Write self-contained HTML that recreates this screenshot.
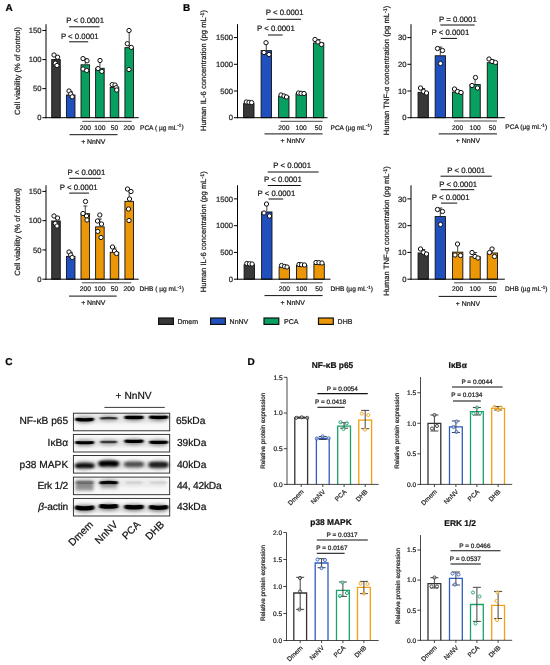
<!DOCTYPE html>
<html lang="en"><head><meta charset="utf-8"><title>Figure</title>
<style>html,body{margin:0;padding:0;background:#fff;}svg{display:block;text-rendering:geometricPrecision;font-family:"Liberation Sans",Arial,sans-serif;}</style>
</head><body>
<svg width="550" height="665" viewBox="0 0 550 665">
<defs><filter id="bl" filterUnits="userSpaceOnUse" x="60" y="400" width="130" height="130"><feGaussianBlur stdDeviation="1.2 0.75"/></filter>
<filter id="bl3" filterUnits="userSpaceOnUse" x="60" y="400" width="130" height="130"><feGaussianBlur stdDeviation="1.5 1.1"/></filter>
<filter id="bl2" filterUnits="userSpaceOnUse" x="60" y="400" width="130" height="130"><feGaussianBlur stdDeviation="1.6 1.6"/></filter></defs>
<rect width="550" height="665" fill="#fff"/>
<text x="5.40" y="11.30" font-size="10" text-anchor="start" font-weight="bold" fill="#000" stroke="#000" stroke-width="0.22">A</text>
<text x="182.90" y="11.10" font-size="10" text-anchor="start" font-weight="bold" fill="#000" stroke="#000" stroke-width="0.22">B</text>
<text x="5.30" y="365.30" font-size="10" text-anchor="start" font-weight="bold" fill="#000" stroke="#000" stroke-width="0.22">C</text>
<text x="247.50" y="365.30" font-size="10" text-anchor="start" font-weight="bold" fill="#000" stroke="#000" stroke-width="0.22">D</text>
<rect x="51.73" y="59.57" width="8.55" height="58.13" fill="#383838" stroke="#111" stroke-width="0.9"/>
<rect x="66.42" y="95.03" width="8.55" height="22.67" fill="#1f50bd" stroke="#111" stroke-width="0.9"/>
<rect x="81.02" y="64.80" width="8.55" height="52.90" fill="#08a060" stroke="#111" stroke-width="0.9"/>
<rect x="95.62" y="68.29" width="8.55" height="49.41" fill="#08a060" stroke="#111" stroke-width="0.9"/>
<rect x="110.22" y="87.30" width="8.55" height="30.40" fill="#08a060" stroke="#111" stroke-width="0.9"/>
<rect x="124.92" y="47.65" width="8.55" height="70.05" fill="#08a060" stroke="#111" stroke-width="0.9"/>
<line x1="56.00" y1="59.50" x2="56.00" y2="55.50" stroke="#111" stroke-width="0.8"/>
<line x1="54.00" y1="55.50" x2="58.00" y2="55.50" stroke="#111" stroke-width="0.8"/>
<line x1="70.70" y1="94.30" x2="70.70" y2="91.50" stroke="#111" stroke-width="0.8"/>
<line x1="68.70" y1="91.50" x2="72.70" y2="91.50" stroke="#111" stroke-width="0.8"/>
<line x1="85.30" y1="64.00" x2="85.30" y2="58.50" stroke="#111" stroke-width="0.8"/>
<line x1="83.30" y1="58.50" x2="87.30" y2="58.50" stroke="#111" stroke-width="0.8"/>
<line x1="99.90" y1="67.00" x2="99.90" y2="61.00" stroke="#111" stroke-width="0.8"/>
<line x1="97.90" y1="61.00" x2="101.90" y2="61.00" stroke="#111" stroke-width="0.8"/>
<line x1="114.50" y1="86.00" x2="114.50" y2="84.00" stroke="#111" stroke-width="0.8"/>
<line x1="112.50" y1="84.00" x2="116.50" y2="84.00" stroke="#111" stroke-width="0.8"/>
<line x1="129.20" y1="47.00" x2="129.20" y2="31.00" stroke="#111" stroke-width="0.8"/>
<line x1="127.20" y1="31.00" x2="131.20" y2="31.00" stroke="#111" stroke-width="0.8"/>
<line x1="46.00" y1="24.20" x2="46.00" y2="118.20" stroke="#000" stroke-width="1.0"/>
<line x1="45.50" y1="117.70" x2="138.70" y2="117.70" stroke="#000" stroke-width="1.0"/>
<line x1="42.40" y1="117.70" x2="46.00" y2="117.70" stroke="#000" stroke-width="1.0"/>
<text x="41.50" y="120.42" font-size="7.6" text-anchor="end" font-weight="normal" fill="#222" stroke="#222" stroke-width="0.22">0</text>
<line x1="42.40" y1="88.64" x2="46.00" y2="88.64" stroke="#000" stroke-width="1.0"/>
<text x="41.50" y="91.36" font-size="7.6" text-anchor="end" font-weight="normal" fill="#222" stroke="#222" stroke-width="0.22">50</text>
<line x1="42.40" y1="59.57" x2="46.00" y2="59.57" stroke="#000" stroke-width="1.0"/>
<text x="41.50" y="62.29" font-size="7.6" text-anchor="end" font-weight="normal" fill="#222" stroke="#222" stroke-width="0.22">100</text>
<line x1="42.40" y1="30.50" x2="46.00" y2="30.50" stroke="#000" stroke-width="1.0"/>
<text x="41.50" y="33.23" font-size="7.6" text-anchor="end" font-weight="normal" fill="#222" stroke="#222" stroke-width="0.22">150</text>
<circle cx="54.00" cy="55.00" r="2.15" fill="#fff" stroke="#111" stroke-width="1"/>
<circle cx="57.60" cy="57.20" r="2.15" fill="#fff" stroke="#111" stroke-width="1"/>
<circle cx="55.30" cy="63.20" r="2.15" fill="#fff" stroke="#111" stroke-width="1"/>
<circle cx="57.00" cy="65.50" r="2.15" fill="#fff" stroke="#111" stroke-width="1"/>
<circle cx="69.00" cy="91.00" r="2.15" fill="#fff" stroke="#111" stroke-width="1"/>
<circle cx="70.70" cy="94.00" r="2.15" fill="#fff" stroke="#111" stroke-width="1"/>
<circle cx="72.20" cy="96.80" r="2.15" fill="#fff" stroke="#111" stroke-width="1"/>
<circle cx="83.00" cy="58.60" r="2.15" fill="#fff" stroke="#111" stroke-width="1"/>
<circle cx="87.00" cy="60.80" r="2.15" fill="#fff" stroke="#111" stroke-width="1"/>
<circle cx="83.00" cy="69.00" r="2.15" fill="#fff" stroke="#111" stroke-width="1"/>
<circle cx="86.70" cy="70.50" r="2.15" fill="#fff" stroke="#111" stroke-width="1"/>
<circle cx="100.00" cy="60.50" r="2.15" fill="#fff" stroke="#111" stroke-width="1"/>
<circle cx="98.00" cy="68.60" r="2.15" fill="#fff" stroke="#111" stroke-width="1"/>
<circle cx="101.80" cy="71.40" r="2.15" fill="#fff" stroke="#111" stroke-width="1"/>
<circle cx="112.20" cy="84.60" r="2.15" fill="#fff" stroke="#111" stroke-width="1"/>
<circle cx="115.00" cy="85.00" r="2.15" fill="#fff" stroke="#111" stroke-width="1"/>
<circle cx="116.20" cy="87.70" r="2.15" fill="#fff" stroke="#111" stroke-width="1"/>
<circle cx="116.70" cy="90.00" r="2.15" fill="#fff" stroke="#111" stroke-width="1"/>
<circle cx="129.00" cy="30.50" r="2.15" fill="#fff" stroke="#111" stroke-width="1"/>
<circle cx="127.30" cy="43.70" r="2.15" fill="#fff" stroke="#111" stroke-width="1"/>
<circle cx="131.30" cy="47.40" r="2.15" fill="#fff" stroke="#111" stroke-width="1"/>
<circle cx="129.00" cy="69.50" r="2.15" fill="#fff" stroke="#111" stroke-width="1"/>
<text transform="translate(19.74,71.00) rotate(-90)" font-size="7.65" text-anchor="middle" fill="#222" stroke="#222" stroke-width="0.22">Cell viability (% of control)</text>
<text x="66.20" y="23.09" font-size="7.8" text-anchor="start" font-weight="normal" fill="#222" stroke="#222" stroke-width="0.22">P &lt; 0.0001</text>
<line x1="69.10" y1="26.80" x2="99.60" y2="26.80" stroke="#111" stroke-width="1.0"/>
<text x="60.90" y="38.59" font-size="7.8" text-anchor="start" font-weight="normal" fill="#222" stroke="#222" stroke-width="0.22">P &lt; 0.0001</text>
<line x1="69.10" y1="41.80" x2="88.20" y2="41.80" stroke="#111" stroke-width="1.0"/>
<line x1="82.30" y1="121.30" x2="131.70" y2="121.30" stroke="#333" stroke-width="0.9"/>
<text x="85.30" y="130.00" font-size="6.7" text-anchor="middle" font-weight="normal" fill="#222" stroke="#222" stroke-width="0.22">200</text>
<text x="99.90" y="130.00" font-size="6.7" text-anchor="middle" font-weight="normal" fill="#222" stroke="#222" stroke-width="0.22">100</text>
<text x="114.50" y="130.00" font-size="6.7" text-anchor="middle" font-weight="normal" fill="#222" stroke="#222" stroke-width="0.22">50</text>
<text x="129.20" y="130.00" font-size="6.7" text-anchor="middle" font-weight="normal" fill="#222" stroke="#222" stroke-width="0.22">200</text>
<text x="140.00" y="129.50" font-size="6.57" text-anchor="start" font-weight="normal" fill="#222" stroke="#222" stroke-width="0.22">PCA ( µg mL<tspan font-size="70%" dy="-0.45em">-1</tspan><tspan dy="0.3em">)</tspan></text>
<line x1="69.50" y1="134.70" x2="117.50" y2="134.70" stroke="#111" stroke-width="1.0"/>
<text x="93.30" y="143.57" font-size="6.9" text-anchor="middle" font-weight="normal" fill="#222" stroke="#222" stroke-width="0.22">+ NnNV</text>
<rect x="51.73" y="220.96" width="8.55" height="58.24" fill="#383838" stroke="#111" stroke-width="0.9"/>
<rect x="66.42" y="256.37" width="8.55" height="22.83" fill="#1f50bd" stroke="#111" stroke-width="0.9"/>
<rect x="81.02" y="213.65" width="8.55" height="65.55" fill="#ec9706" stroke="#111" stroke-width="0.9"/>
<rect x="95.62" y="226.82" width="8.55" height="52.38" fill="#ec9706" stroke="#111" stroke-width="0.9"/>
<rect x="110.22" y="252.28" width="8.55" height="26.92" fill="#ec9706" stroke="#111" stroke-width="0.9"/>
<rect x="124.92" y="201.36" width="8.55" height="77.84" fill="#ec9706" stroke="#111" stroke-width="0.9"/>
<line x1="56.00" y1="220.50" x2="56.00" y2="216.50" stroke="#111" stroke-width="0.8"/>
<line x1="54.00" y1="216.50" x2="58.00" y2="216.50" stroke="#111" stroke-width="0.8"/>
<line x1="70.70" y1="255.50" x2="70.70" y2="252.50" stroke="#111" stroke-width="0.8"/>
<line x1="68.70" y1="252.50" x2="72.70" y2="252.50" stroke="#111" stroke-width="0.8"/>
<line x1="85.30" y1="213.00" x2="85.30" y2="206.00" stroke="#111" stroke-width="0.8"/>
<line x1="83.30" y1="206.00" x2="87.30" y2="206.00" stroke="#111" stroke-width="0.8"/>
<line x1="99.90" y1="226.00" x2="99.90" y2="219.00" stroke="#111" stroke-width="0.8"/>
<line x1="97.90" y1="219.00" x2="101.90" y2="219.00" stroke="#111" stroke-width="0.8"/>
<line x1="114.50" y1="251.50" x2="114.50" y2="248.00" stroke="#111" stroke-width="0.8"/>
<line x1="112.50" y1="248.00" x2="116.50" y2="248.00" stroke="#111" stroke-width="0.8"/>
<line x1="129.20" y1="201.00" x2="129.20" y2="190.00" stroke="#111" stroke-width="0.8"/>
<line x1="127.20" y1="190.00" x2="131.20" y2="190.00" stroke="#111" stroke-width="0.8"/>
<line x1="46.00" y1="185.30" x2="46.00" y2="279.70" stroke="#000" stroke-width="1.0"/>
<line x1="45.50" y1="279.20" x2="138.70" y2="279.20" stroke="#000" stroke-width="1.0"/>
<line x1="42.40" y1="279.20" x2="46.00" y2="279.20" stroke="#000" stroke-width="1.0"/>
<text x="41.50" y="281.92" font-size="7.6" text-anchor="end" font-weight="normal" fill="#222" stroke="#222" stroke-width="0.22">0</text>
<line x1="42.40" y1="249.94" x2="46.00" y2="249.94" stroke="#000" stroke-width="1.0"/>
<text x="41.50" y="252.66" font-size="7.6" text-anchor="end" font-weight="normal" fill="#222" stroke="#222" stroke-width="0.22">50</text>
<line x1="42.40" y1="220.67" x2="46.00" y2="220.67" stroke="#000" stroke-width="1.0"/>
<text x="41.50" y="223.39" font-size="7.6" text-anchor="end" font-weight="normal" fill="#222" stroke="#222" stroke-width="0.22">100</text>
<line x1="42.40" y1="191.40" x2="46.00" y2="191.40" stroke="#000" stroke-width="1.0"/>
<text x="41.50" y="194.13" font-size="7.6" text-anchor="end" font-weight="normal" fill="#222" stroke="#222" stroke-width="0.22">150</text>
<circle cx="54.00" cy="216.00" r="2.15" fill="#fff" stroke="#111" stroke-width="1"/>
<circle cx="57.60" cy="218.00" r="2.15" fill="#fff" stroke="#111" stroke-width="1"/>
<circle cx="55.30" cy="223.50" r="2.15" fill="#fff" stroke="#111" stroke-width="1"/>
<circle cx="57.00" cy="226.00" r="2.15" fill="#fff" stroke="#111" stroke-width="1"/>
<circle cx="69.00" cy="252.00" r="2.15" fill="#fff" stroke="#111" stroke-width="1"/>
<circle cx="70.70" cy="255.00" r="2.15" fill="#fff" stroke="#111" stroke-width="1"/>
<circle cx="72.20" cy="257.50" r="2.15" fill="#fff" stroke="#111" stroke-width="1"/>
<circle cx="85.50" cy="201.50" r="2.15" fill="#fff" stroke="#111" stroke-width="1"/>
<circle cx="83.00" cy="213.50" r="2.15" fill="#fff" stroke="#111" stroke-width="1"/>
<circle cx="86.50" cy="216.00" r="2.15" fill="#fff" stroke="#111" stroke-width="1"/>
<circle cx="87.00" cy="220.00" r="2.15" fill="#fff" stroke="#111" stroke-width="1"/>
<circle cx="99.80" cy="215.00" r="2.15" fill="#fff" stroke="#111" stroke-width="1"/>
<circle cx="97.50" cy="221.00" r="2.15" fill="#fff" stroke="#111" stroke-width="1"/>
<circle cx="101.50" cy="224.00" r="2.15" fill="#fff" stroke="#111" stroke-width="1"/>
<circle cx="97.80" cy="231.40" r="2.15" fill="#fff" stroke="#111" stroke-width="1"/>
<circle cx="101.00" cy="237.50" r="2.15" fill="#fff" stroke="#111" stroke-width="1"/>
<circle cx="112.50" cy="247.00" r="2.15" fill="#fff" stroke="#111" stroke-width="1"/>
<circle cx="114.50" cy="251.00" r="2.15" fill="#fff" stroke="#111" stroke-width="1"/>
<circle cx="116.50" cy="253.50" r="2.15" fill="#fff" stroke="#111" stroke-width="1"/>
<circle cx="127.50" cy="189.00" r="2.15" fill="#fff" stroke="#111" stroke-width="1"/>
<circle cx="131.00" cy="191.50" r="2.15" fill="#fff" stroke="#111" stroke-width="1"/>
<circle cx="129.50" cy="199.00" r="2.15" fill="#fff" stroke="#111" stroke-width="1"/>
<circle cx="128.50" cy="209.00" r="2.15" fill="#fff" stroke="#111" stroke-width="1"/>
<circle cx="129.00" cy="220.50" r="2.15" fill="#fff" stroke="#111" stroke-width="1"/>
<text transform="translate(19.74,231.80) rotate(-90)" font-size="7.65" text-anchor="middle" fill="#222" stroke="#222" stroke-width="0.22">Cell viability (% of control)</text>
<text x="67.50" y="174.79" font-size="7.8" text-anchor="start" font-weight="normal" fill="#222" stroke="#222" stroke-width="0.22">P &lt; 0.0001</text>
<line x1="69.20" y1="178.30" x2="101.20" y2="178.30" stroke="#111" stroke-width="1.0"/>
<text x="59.80" y="189.79" font-size="7.8" text-anchor="start" font-weight="normal" fill="#222" stroke="#222" stroke-width="0.22">P &lt; 0.0001</text>
<line x1="69.20" y1="193.10" x2="89.00" y2="193.10" stroke="#111" stroke-width="1.0"/>
<line x1="81.80" y1="282.80" x2="131.30" y2="282.80" stroke="#333" stroke-width="0.9"/>
<text x="85.30" y="291.30" font-size="6.7" text-anchor="middle" font-weight="normal" fill="#222" stroke="#222" stroke-width="0.22">200</text>
<text x="99.90" y="291.30" font-size="6.7" text-anchor="middle" font-weight="normal" fill="#222" stroke="#222" stroke-width="0.22">100</text>
<text x="114.50" y="291.30" font-size="6.7" text-anchor="middle" font-weight="normal" fill="#222" stroke="#222" stroke-width="0.22">50</text>
<text x="129.20" y="291.30" font-size="6.7" text-anchor="middle" font-weight="normal" fill="#222" stroke="#222" stroke-width="0.22">200</text>
<text x="139.50" y="290.80" font-size="6.57" text-anchor="start" font-weight="normal" fill="#222" stroke="#222" stroke-width="0.22">DHB ( µg mL<tspan font-size="70%" dy="-0.45em">-1</tspan><tspan dy="0.3em">)</tspan></text>
<line x1="69.00" y1="296.10" x2="116.70" y2="296.10" stroke="#111" stroke-width="1.0"/>
<text x="93.30" y="305.17" font-size="6.9" text-anchor="middle" font-weight="normal" fill="#222" stroke="#222" stroke-width="0.22">+ NnNV</text>
<rect x="243.60" y="103.60" width="10.40" height="14.10" fill="#383838" stroke="#111" stroke-width="0.9"/>
<rect x="261.10" y="50.63" width="10.40" height="67.07" fill="#1f50bd" stroke="#111" stroke-width="0.9"/>
<rect x="278.60" y="96.34" width="10.40" height="21.36" fill="#08a060" stroke="#111" stroke-width="0.9"/>
<rect x="296.00" y="93.67" width="10.40" height="24.03" fill="#08a060" stroke="#111" stroke-width="0.9"/>
<rect x="313.40" y="42.94" width="10.40" height="74.76" fill="#08a060" stroke="#111" stroke-width="0.9"/>
<line x1="248.80" y1="103.00" x2="248.80" y2="101.50" stroke="#111" stroke-width="0.8"/>
<line x1="246.80" y1="101.50" x2="250.80" y2="101.50" stroke="#111" stroke-width="0.8"/>
<line x1="266.30" y1="50.00" x2="266.30" y2="43.00" stroke="#111" stroke-width="0.8"/>
<line x1="264.30" y1="43.00" x2="268.30" y2="43.00" stroke="#111" stroke-width="0.8"/>
<line x1="283.80" y1="96.00" x2="283.80" y2="94.50" stroke="#111" stroke-width="0.8"/>
<line x1="281.80" y1="94.50" x2="285.80" y2="94.50" stroke="#111" stroke-width="0.8"/>
<line x1="301.20" y1="94.00" x2="301.20" y2="92.50" stroke="#111" stroke-width="0.8"/>
<line x1="299.20" y1="92.50" x2="303.20" y2="92.50" stroke="#111" stroke-width="0.8"/>
<line x1="318.60" y1="42.00" x2="318.60" y2="39.50" stroke="#111" stroke-width="0.8"/>
<line x1="316.60" y1="39.50" x2="320.60" y2="39.50" stroke="#111" stroke-width="0.8"/>
<line x1="237.50" y1="24.20" x2="237.50" y2="118.20" stroke="#000" stroke-width="1.0"/>
<line x1="237.00" y1="117.70" x2="327.50" y2="117.70" stroke="#000" stroke-width="1.0"/>
<line x1="233.90" y1="117.70" x2="237.50" y2="117.70" stroke="#000" stroke-width="1.0"/>
<text x="233.00" y="120.42" font-size="7.6" text-anchor="end" font-weight="normal" fill="#222" stroke="#222" stroke-width="0.22">0</text>
<line x1="233.90" y1="91.00" x2="237.50" y2="91.00" stroke="#000" stroke-width="1.0"/>
<text x="233.00" y="93.72" font-size="7.6" text-anchor="end" font-weight="normal" fill="#222" stroke="#222" stroke-width="0.22">500</text>
<line x1="233.90" y1="64.30" x2="237.50" y2="64.30" stroke="#000" stroke-width="1.0"/>
<text x="233.00" y="67.02" font-size="7.6" text-anchor="end" font-weight="normal" fill="#222" stroke="#222" stroke-width="0.22">1000</text>
<line x1="233.90" y1="37.60" x2="237.50" y2="37.60" stroke="#000" stroke-width="1.0"/>
<text x="233.00" y="40.32" font-size="7.6" text-anchor="end" font-weight="normal" fill="#222" stroke="#222" stroke-width="0.22">1500</text>
<circle cx="246.30" cy="102.00" r="2.15" fill="#fff" stroke="#111" stroke-width="1"/>
<circle cx="249.00" cy="102.30" r="2.15" fill="#fff" stroke="#111" stroke-width="1"/>
<circle cx="251.60" cy="102.60" r="2.15" fill="#fff" stroke="#111" stroke-width="1"/>
<circle cx="266.00" cy="42.70" r="2.15" fill="#fff" stroke="#111" stroke-width="1"/>
<circle cx="264.00" cy="52.50" r="2.15" fill="#fff" stroke="#111" stroke-width="1"/>
<circle cx="269.00" cy="54.50" r="2.15" fill="#fff" stroke="#111" stroke-width="1"/>
<circle cx="281.00" cy="95.00" r="2.15" fill="#fff" stroke="#111" stroke-width="1"/>
<circle cx="284.00" cy="96.00" r="2.15" fill="#fff" stroke="#111" stroke-width="1"/>
<circle cx="286.50" cy="97.00" r="2.15" fill="#fff" stroke="#111" stroke-width="1"/>
<circle cx="298.50" cy="93.00" r="2.15" fill="#fff" stroke="#111" stroke-width="1"/>
<circle cx="301.00" cy="93.30" r="2.15" fill="#fff" stroke="#111" stroke-width="1"/>
<circle cx="304.00" cy="93.50" r="2.15" fill="#fff" stroke="#111" stroke-width="1"/>
<circle cx="315.00" cy="39.50" r="2.15" fill="#fff" stroke="#111" stroke-width="1"/>
<circle cx="318.00" cy="42.00" r="2.15" fill="#fff" stroke="#111" stroke-width="1"/>
<circle cx="321.50" cy="44.50" r="2.15" fill="#fff" stroke="#111" stroke-width="1"/>
<text transform="translate(206.24,70.50) rotate(-90)" font-size="7.65" text-anchor="middle" fill="#222" stroke="#222" stroke-width="0.22">Human IL-6 concentration (pg mL<tspan font-size="70%" dy="-0.45em">-1</tspan><tspan dy="0.3em">)</tspan></text>
<text x="265.70" y="15.29" font-size="7.8" text-anchor="start" font-weight="normal" fill="#222" stroke="#222" stroke-width="0.22">P &lt; 0.0001</text>
<line x1="266.80" y1="19.30" x2="301.00" y2="19.30" stroke="#111" stroke-width="1.0"/>
<text x="257.00" y="31.49" font-size="7.8" text-anchor="start" font-weight="normal" fill="#222" stroke="#222" stroke-width="0.22">P &lt; 0.0001</text>
<line x1="268.00" y1="35.00" x2="282.60" y2="35.00" stroke="#111" stroke-width="1.0"/>
<line x1="280.50" y1="121.30" x2="322.60" y2="121.30" stroke="#333" stroke-width="0.9"/>
<text x="283.80" y="130.00" font-size="6.7" text-anchor="middle" font-weight="normal" fill="#222" stroke="#222" stroke-width="0.22">200</text>
<text x="301.20" y="130.00" font-size="6.7" text-anchor="middle" font-weight="normal" fill="#222" stroke="#222" stroke-width="0.22">100</text>
<text x="318.60" y="130.00" font-size="6.7" text-anchor="middle" font-weight="normal" fill="#222" stroke="#222" stroke-width="0.22">50</text>
<text x="330.50" y="129.50" font-size="6.57" text-anchor="start" font-weight="normal" fill="#222" stroke="#222" stroke-width="0.22">PCA (µg mL<tspan font-size="70%" dy="-0.45em">-1</tspan><tspan dy="0.3em">)</tspan></text>
<line x1="264.50" y1="133.90" x2="322.60" y2="133.90" stroke="#111" stroke-width="1.0"/>
<text x="292.70" y="142.87" font-size="6.9" text-anchor="middle" font-weight="normal" fill="#222" stroke="#222" stroke-width="0.22">+ NnNV</text>
<rect x="418.05" y="92.34" width="10.30" height="25.36" fill="#383838" stroke="#111" stroke-width="0.9"/>
<rect x="435.15" y="55.76" width="10.30" height="61.94" fill="#1f50bd" stroke="#111" stroke-width="0.9"/>
<rect x="452.55" y="92.07" width="10.30" height="25.63" fill="#08a060" stroke="#111" stroke-width="0.9"/>
<rect x="469.95" y="84.59" width="10.30" height="33.11" fill="#08a060" stroke="#111" stroke-width="0.9"/>
<rect x="487.25" y="62.70" width="10.30" height="55.00" fill="#08a060" stroke="#111" stroke-width="0.9"/>
<line x1="423.20" y1="91.50" x2="423.20" y2="88.50" stroke="#111" stroke-width="0.8"/>
<line x1="421.20" y1="88.50" x2="425.20" y2="88.50" stroke="#111" stroke-width="0.8"/>
<line x1="440.30" y1="55.00" x2="440.30" y2="47.00" stroke="#111" stroke-width="0.8"/>
<line x1="438.30" y1="47.00" x2="442.30" y2="47.00" stroke="#111" stroke-width="0.8"/>
<line x1="457.70" y1="92.00" x2="457.70" y2="90.00" stroke="#111" stroke-width="0.8"/>
<line x1="455.70" y1="90.00" x2="459.70" y2="90.00" stroke="#111" stroke-width="0.8"/>
<line x1="475.10" y1="84.00" x2="475.10" y2="78.00" stroke="#111" stroke-width="0.8"/>
<line x1="473.10" y1="78.00" x2="477.10" y2="78.00" stroke="#111" stroke-width="0.8"/>
<line x1="492.40" y1="61.50" x2="492.40" y2="59.50" stroke="#111" stroke-width="0.8"/>
<line x1="490.40" y1="59.50" x2="494.40" y2="59.50" stroke="#111" stroke-width="0.8"/>
<line x1="411.00" y1="24.20" x2="411.00" y2="118.20" stroke="#000" stroke-width="1.0"/>
<line x1="410.50" y1="117.70" x2="504.80" y2="117.70" stroke="#000" stroke-width="1.0"/>
<line x1="407.40" y1="117.70" x2="411.00" y2="117.70" stroke="#000" stroke-width="1.0"/>
<text x="406.50" y="120.42" font-size="7.6" text-anchor="end" font-weight="normal" fill="#222" stroke="#222" stroke-width="0.22">0</text>
<line x1="407.40" y1="91.00" x2="411.00" y2="91.00" stroke="#000" stroke-width="1.0"/>
<text x="406.50" y="93.72" font-size="7.6" text-anchor="end" font-weight="normal" fill="#222" stroke="#222" stroke-width="0.22">10</text>
<line x1="407.40" y1="64.30" x2="411.00" y2="64.30" stroke="#000" stroke-width="1.0"/>
<text x="406.50" y="67.02" font-size="7.6" text-anchor="end" font-weight="normal" fill="#222" stroke="#222" stroke-width="0.22">20</text>
<line x1="407.40" y1="37.60" x2="411.00" y2="37.60" stroke="#000" stroke-width="1.0"/>
<text x="406.50" y="40.32" font-size="7.6" text-anchor="end" font-weight="normal" fill="#222" stroke="#222" stroke-width="0.22">30</text>
<circle cx="420.50" cy="88.00" r="2.15" fill="#fff" stroke="#111" stroke-width="1"/>
<circle cx="423.50" cy="91.50" r="2.15" fill="#fff" stroke="#111" stroke-width="1"/>
<circle cx="426.50" cy="93.00" r="2.15" fill="#fff" stroke="#111" stroke-width="1"/>
<circle cx="437.50" cy="48.50" r="2.15" fill="#fff" stroke="#111" stroke-width="1"/>
<circle cx="442.50" cy="50.50" r="2.15" fill="#fff" stroke="#111" stroke-width="1"/>
<circle cx="440.50" cy="63.50" r="2.15" fill="#fff" stroke="#111" stroke-width="1"/>
<circle cx="454.50" cy="89.00" r="2.15" fill="#fff" stroke="#111" stroke-width="1"/>
<circle cx="457.50" cy="91.50" r="2.15" fill="#fff" stroke="#111" stroke-width="1"/>
<circle cx="461.00" cy="92.50" r="2.15" fill="#fff" stroke="#111" stroke-width="1"/>
<circle cx="475.50" cy="77.50" r="2.15" fill="#fff" stroke="#111" stroke-width="1"/>
<circle cx="472.00" cy="85.50" r="2.15" fill="#fff" stroke="#111" stroke-width="1"/>
<circle cx="477.50" cy="88.00" r="2.15" fill="#fff" stroke="#111" stroke-width="1"/>
<circle cx="489.00" cy="59.00" r="2.15" fill="#fff" stroke="#111" stroke-width="1"/>
<circle cx="492.00" cy="61.50" r="2.15" fill="#fff" stroke="#111" stroke-width="1"/>
<circle cx="495.50" cy="62.50" r="2.15" fill="#fff" stroke="#111" stroke-width="1"/>
<text transform="translate(389.44,70.50) rotate(-90)" font-size="7.65" text-anchor="middle" fill="#222" stroke="#222" stroke-width="0.22">Human TNF-α concentration (pg mL<tspan font-size="70%" dy="-0.45em">-1</tspan><tspan dy="0.3em">)</tspan></text>
<text x="439.00" y="21.79" font-size="7.8" text-anchor="start" font-weight="normal" fill="#222" stroke="#222" stroke-width="0.22">P = 0.0001</text>
<line x1="440.30" y1="25.00" x2="474.70" y2="25.00" stroke="#111" stroke-width="1.0"/>
<text x="431.50" y="35.29" font-size="7.8" text-anchor="start" font-weight="normal" fill="#222" stroke="#222" stroke-width="0.22">P &lt; 0.0001</text>
<line x1="440.80" y1="38.40" x2="457.00" y2="38.40" stroke="#111" stroke-width="1.0"/>
<line x1="454.00" y1="121.00" x2="497.00" y2="121.00" stroke="#333" stroke-width="0.9"/>
<text x="457.70" y="129.70" font-size="6.7" text-anchor="middle" font-weight="normal" fill="#222" stroke="#222" stroke-width="0.22">200</text>
<text x="475.10" y="129.70" font-size="6.7" text-anchor="middle" font-weight="normal" fill="#222" stroke="#222" stroke-width="0.22">100</text>
<text x="492.40" y="129.70" font-size="6.7" text-anchor="middle" font-weight="normal" fill="#222" stroke="#222" stroke-width="0.22">50</text>
<text x="505.30" y="129.20" font-size="6.57" text-anchor="start" font-weight="normal" fill="#222" stroke="#222" stroke-width="0.22">PCA (µg mL<tspan font-size="70%" dy="-0.45em">-1</tspan><tspan dy="0.3em">)</tspan></text>
<line x1="438.70" y1="133.90" x2="497.00" y2="133.90" stroke="#111" stroke-width="1.0"/>
<text x="468.00" y="143.17" font-size="6.9" text-anchor="middle" font-weight="normal" fill="#222" stroke="#222" stroke-width="0.22">+ NnNV</text>
<rect x="244.10" y="264.74" width="10.40" height="14.46" fill="#383838" stroke="#111" stroke-width="0.9"/>
<rect x="261.60" y="211.95" width="10.40" height="67.25" fill="#1f50bd" stroke="#111" stroke-width="0.9"/>
<rect x="279.10" y="267.15" width="10.40" height="12.05" fill="#ec9706" stroke="#111" stroke-width="0.9"/>
<rect x="296.50" y="265.55" width="10.40" height="13.65" fill="#ec9706" stroke="#111" stroke-width="0.9"/>
<rect x="313.90" y="264.21" width="10.40" height="14.99" fill="#ec9706" stroke="#111" stroke-width="0.9"/>
<line x1="249.30" y1="264.20" x2="249.30" y2="262.50" stroke="#111" stroke-width="0.8"/>
<line x1="247.30" y1="262.50" x2="251.30" y2="262.50" stroke="#111" stroke-width="0.8"/>
<line x1="266.80" y1="211.20" x2="266.80" y2="204.00" stroke="#111" stroke-width="0.8"/>
<line x1="264.80" y1="204.00" x2="268.80" y2="204.00" stroke="#111" stroke-width="0.8"/>
<line x1="284.30" y1="266.70" x2="284.30" y2="265.00" stroke="#111" stroke-width="0.8"/>
<line x1="282.30" y1="265.00" x2="286.30" y2="265.00" stroke="#111" stroke-width="0.8"/>
<line x1="301.70" y1="265.00" x2="301.70" y2="263.50" stroke="#111" stroke-width="0.8"/>
<line x1="299.70" y1="263.50" x2="303.70" y2="263.50" stroke="#111" stroke-width="0.8"/>
<line x1="319.10" y1="263.70" x2="319.10" y2="262.00" stroke="#111" stroke-width="0.8"/>
<line x1="317.10" y1="262.00" x2="321.10" y2="262.00" stroke="#111" stroke-width="0.8"/>
<line x1="237.50" y1="185.30" x2="237.50" y2="279.70" stroke="#000" stroke-width="1.0"/>
<line x1="237.00" y1="279.20" x2="330.50" y2="279.20" stroke="#000" stroke-width="1.0"/>
<line x1="233.90" y1="279.20" x2="237.50" y2="279.20" stroke="#000" stroke-width="1.0"/>
<text x="233.00" y="281.92" font-size="7.6" text-anchor="end" font-weight="normal" fill="#222" stroke="#222" stroke-width="0.22">0</text>
<line x1="233.90" y1="252.43" x2="237.50" y2="252.43" stroke="#000" stroke-width="1.0"/>
<text x="233.00" y="255.15" font-size="7.6" text-anchor="end" font-weight="normal" fill="#222" stroke="#222" stroke-width="0.22">500</text>
<line x1="233.90" y1="225.66" x2="237.50" y2="225.66" stroke="#000" stroke-width="1.0"/>
<text x="233.00" y="228.38" font-size="7.6" text-anchor="end" font-weight="normal" fill="#222" stroke="#222" stroke-width="0.22">1000</text>
<line x1="233.90" y1="198.89" x2="237.50" y2="198.89" stroke="#000" stroke-width="1.0"/>
<text x="233.00" y="201.61" font-size="7.6" text-anchor="end" font-weight="normal" fill="#222" stroke="#222" stroke-width="0.22">1500</text>
<circle cx="246.80" cy="263.50" r="2.15" fill="#fff" stroke="#111" stroke-width="1"/>
<circle cx="249.50" cy="263.80" r="2.15" fill="#fff" stroke="#111" stroke-width="1"/>
<circle cx="252.10" cy="264.00" r="2.15" fill="#fff" stroke="#111" stroke-width="1"/>
<circle cx="266.50" cy="204.00" r="2.15" fill="#fff" stroke="#111" stroke-width="1"/>
<circle cx="264.00" cy="213.00" r="2.15" fill="#fff" stroke="#111" stroke-width="1"/>
<circle cx="269.50" cy="216.00" r="2.15" fill="#fff" stroke="#111" stroke-width="1"/>
<circle cx="281.50" cy="265.50" r="2.15" fill="#fff" stroke="#111" stroke-width="1"/>
<circle cx="284.50" cy="266.50" r="2.15" fill="#fff" stroke="#111" stroke-width="1"/>
<circle cx="287.00" cy="267.00" r="2.15" fill="#fff" stroke="#111" stroke-width="1"/>
<circle cx="299.00" cy="264.50" r="2.15" fill="#fff" stroke="#111" stroke-width="1"/>
<circle cx="301.50" cy="264.70" r="2.15" fill="#fff" stroke="#111" stroke-width="1"/>
<circle cx="304.50" cy="265.00" r="2.15" fill="#fff" stroke="#111" stroke-width="1"/>
<circle cx="316.00" cy="262.50" r="2.15" fill="#fff" stroke="#111" stroke-width="1"/>
<circle cx="319.00" cy="262.70" r="2.15" fill="#fff" stroke="#111" stroke-width="1"/>
<circle cx="322.00" cy="263.00" r="2.15" fill="#fff" stroke="#111" stroke-width="1"/>
<text transform="translate(206.24,231.70) rotate(-90)" font-size="7.65" text-anchor="middle" fill="#222" stroke="#222" stroke-width="0.22">Human IL-6 concentration (pg mL<tspan font-size="70%" dy="-0.45em">-1</tspan><tspan dy="0.3em">)</tspan></text>
<text x="273.20" y="168.49" font-size="7.8" text-anchor="start" font-weight="normal" fill="#222" stroke="#222" stroke-width="0.22">P &lt; 0.0001</text>
<line x1="267.70" y1="172.00" x2="318.60" y2="172.00" stroke="#111" stroke-width="1.0"/>
<text x="264.00" y="182.29" font-size="7.8" text-anchor="start" font-weight="normal" fill="#222" stroke="#222" stroke-width="0.22">P &lt; 0.0001</text>
<line x1="267.70" y1="185.50" x2="300.80" y2="185.50" stroke="#111" stroke-width="1.0"/>
<text x="257.50" y="195.79" font-size="7.8" text-anchor="start" font-weight="normal" fill="#222" stroke="#222" stroke-width="0.22">P &lt; 0.0001</text>
<line x1="268.50" y1="199.00" x2="283.20" y2="199.00" stroke="#111" stroke-width="1.0"/>
<line x1="280.50" y1="282.80" x2="322.60" y2="282.80" stroke="#333" stroke-width="0.9"/>
<text x="284.30" y="291.20" font-size="6.7" text-anchor="middle" font-weight="normal" fill="#222" stroke="#222" stroke-width="0.22">200</text>
<text x="301.70" y="291.20" font-size="6.7" text-anchor="middle" font-weight="normal" fill="#222" stroke="#222" stroke-width="0.22">100</text>
<text x="319.10" y="291.20" font-size="6.7" text-anchor="middle" font-weight="normal" fill="#222" stroke="#222" stroke-width="0.22">50</text>
<text x="330.50" y="290.70" font-size="6.57" text-anchor="start" font-weight="normal" fill="#222" stroke="#222" stroke-width="0.22">DHB (µg mL<tspan font-size="70%" dy="-0.45em">-1</tspan><tspan dy="0.3em">)</tspan></text>
<line x1="264.50" y1="295.60" x2="322.60" y2="295.60" stroke="#111" stroke-width="1.0"/>
<text x="292.70" y="304.97" font-size="6.9" text-anchor="middle" font-weight="normal" fill="#222" stroke="#222" stroke-width="0.22">+ NnNV</text>
<rect x="418.05" y="252.97" width="10.30" height="26.23" fill="#383838" stroke="#111" stroke-width="0.9"/>
<rect x="435.15" y="216.56" width="10.30" height="62.64" fill="#1f50bd" stroke="#111" stroke-width="0.9"/>
<rect x="452.55" y="252.16" width="10.30" height="27.04" fill="#ec9706" stroke="#111" stroke-width="0.9"/>
<rect x="469.95" y="256.71" width="10.30" height="22.49" fill="#ec9706" stroke="#111" stroke-width="0.9"/>
<rect x="487.25" y="252.97" width="10.30" height="26.23" fill="#ec9706" stroke="#111" stroke-width="0.9"/>
<line x1="423.20" y1="252.50" x2="423.20" y2="249.50" stroke="#111" stroke-width="0.8"/>
<line x1="421.20" y1="249.50" x2="425.20" y2="249.50" stroke="#111" stroke-width="0.8"/>
<line x1="440.30" y1="216.20" x2="440.30" y2="208.00" stroke="#111" stroke-width="0.8"/>
<line x1="438.30" y1="208.00" x2="442.30" y2="208.00" stroke="#111" stroke-width="0.8"/>
<line x1="457.70" y1="251.70" x2="457.70" y2="244.00" stroke="#111" stroke-width="0.8"/>
<line x1="455.70" y1="244.00" x2="459.70" y2="244.00" stroke="#111" stroke-width="0.8"/>
<line x1="475.10" y1="256.20" x2="475.10" y2="252.50" stroke="#111" stroke-width="0.8"/>
<line x1="473.10" y1="252.50" x2="477.10" y2="252.50" stroke="#111" stroke-width="0.8"/>
<line x1="492.40" y1="252.50" x2="492.40" y2="248.00" stroke="#111" stroke-width="0.8"/>
<line x1="490.40" y1="248.00" x2="494.40" y2="248.00" stroke="#111" stroke-width="0.8"/>
<line x1="411.00" y1="185.30" x2="411.00" y2="279.70" stroke="#000" stroke-width="1.0"/>
<line x1="410.50" y1="279.20" x2="504.80" y2="279.20" stroke="#000" stroke-width="1.0"/>
<line x1="407.40" y1="279.20" x2="411.00" y2="279.20" stroke="#000" stroke-width="1.0"/>
<text x="406.50" y="281.92" font-size="7.6" text-anchor="end" font-weight="normal" fill="#222" stroke="#222" stroke-width="0.22">0</text>
<line x1="407.40" y1="252.43" x2="411.00" y2="252.43" stroke="#000" stroke-width="1.0"/>
<text x="406.50" y="255.15" font-size="7.6" text-anchor="end" font-weight="normal" fill="#222" stroke="#222" stroke-width="0.22">10</text>
<line x1="407.40" y1="225.66" x2="411.00" y2="225.66" stroke="#000" stroke-width="1.0"/>
<text x="406.50" y="228.38" font-size="7.6" text-anchor="end" font-weight="normal" fill="#222" stroke="#222" stroke-width="0.22">20</text>
<line x1="407.40" y1="198.89" x2="411.00" y2="198.89" stroke="#000" stroke-width="1.0"/>
<text x="406.50" y="201.61" font-size="7.6" text-anchor="end" font-weight="normal" fill="#222" stroke="#222" stroke-width="0.22">30</text>
<circle cx="420.50" cy="249.00" r="2.15" fill="#fff" stroke="#111" stroke-width="1"/>
<circle cx="423.50" cy="252.50" r="2.15" fill="#fff" stroke="#111" stroke-width="1"/>
<circle cx="426.50" cy="254.00" r="2.15" fill="#fff" stroke="#111" stroke-width="1"/>
<circle cx="437.50" cy="209.50" r="2.15" fill="#fff" stroke="#111" stroke-width="1"/>
<circle cx="442.50" cy="211.50" r="2.15" fill="#fff" stroke="#111" stroke-width="1"/>
<circle cx="440.50" cy="224.50" r="2.15" fill="#fff" stroke="#111" stroke-width="1"/>
<circle cx="457.50" cy="244.00" r="2.15" fill="#fff" stroke="#111" stroke-width="1"/>
<circle cx="455.00" cy="255.00" r="2.15" fill="#fff" stroke="#111" stroke-width="1"/>
<circle cx="460.50" cy="255.50" r="2.15" fill="#fff" stroke="#111" stroke-width="1"/>
<circle cx="472.00" cy="252.50" r="2.15" fill="#fff" stroke="#111" stroke-width="1"/>
<circle cx="475.00" cy="256.50" r="2.15" fill="#fff" stroke="#111" stroke-width="1"/>
<circle cx="478.00" cy="258.00" r="2.15" fill="#fff" stroke="#111" stroke-width="1"/>
<circle cx="492.00" cy="249.00" r="2.15" fill="#fff" stroke="#111" stroke-width="1"/>
<circle cx="489.50" cy="252.50" r="2.15" fill="#fff" stroke="#111" stroke-width="1"/>
<circle cx="494.50" cy="256.50" r="2.15" fill="#fff" stroke="#111" stroke-width="1"/>
<text transform="translate(389.44,231.00) rotate(-90)" font-size="7.65" text-anchor="middle" fill="#222" stroke="#222" stroke-width="0.22">Human TNF-α concentration (pg mL<tspan font-size="70%" dy="-0.45em">-1</tspan><tspan dy="0.3em">)</tspan></text>
<text x="447.30" y="173.39" font-size="7.8" text-anchor="start" font-weight="normal" fill="#222" stroke="#222" stroke-width="0.22">P &lt; 0.0001</text>
<line x1="440.50" y1="176.20" x2="491.80" y2="176.20" stroke="#111" stroke-width="1.0"/>
<text x="439.30" y="186.59" font-size="7.8" text-anchor="start" font-weight="normal" fill="#222" stroke="#222" stroke-width="0.22">P &lt; 0.0001</text>
<line x1="440.50" y1="189.70" x2="474.30" y2="189.70" stroke="#111" stroke-width="1.0"/>
<text x="431.70" y="200.09" font-size="7.8" text-anchor="start" font-weight="normal" fill="#222" stroke="#222" stroke-width="0.22">P &lt; 0.0001</text>
<line x1="441.00" y1="203.10" x2="457.20" y2="203.10" stroke="#111" stroke-width="1.0"/>
<line x1="454.00" y1="282.80" x2="496.90" y2="282.80" stroke="#333" stroke-width="0.9"/>
<text x="457.70" y="291.10" font-size="6.7" text-anchor="middle" font-weight="normal" fill="#222" stroke="#222" stroke-width="0.22">200</text>
<text x="475.10" y="291.10" font-size="6.7" text-anchor="middle" font-weight="normal" fill="#222" stroke="#222" stroke-width="0.22">100</text>
<text x="492.40" y="291.10" font-size="6.7" text-anchor="middle" font-weight="normal" fill="#222" stroke="#222" stroke-width="0.22">50</text>
<text x="505.00" y="290.60" font-size="6.57" text-anchor="start" font-weight="normal" fill="#222" stroke="#222" stroke-width="0.22">DHB (µg mL<tspan font-size="70%" dy="-0.45em">-1</tspan><tspan dy="0.3em">)</tspan></text>
<line x1="438.70" y1="296.40" x2="496.90" y2="296.40" stroke="#111" stroke-width="1.0"/>
<text x="468.00" y="306.47" font-size="6.9" text-anchor="middle" font-weight="normal" fill="#222" stroke="#222" stroke-width="0.22">+ NnNV</text>
<rect x="158.6" y="318" width="14.8" height="6.4" fill="#383838" stroke="#111" stroke-width="1.2"/>
<text x="177.40" y="324.31" font-size="7.0" text-anchor="start" font-weight="normal" fill="#222" stroke="#222" stroke-width="0.22">Dmem</text>
<rect x="210.6" y="318" width="14.8" height="6.4" fill="#1f50bd" stroke="#111" stroke-width="1.2"/>
<text x="229.60" y="324.31" font-size="7.0" text-anchor="start" font-weight="normal" fill="#222" stroke="#222" stroke-width="0.22">NnNV</text>
<rect x="264" y="318" width="14.8" height="6.4" fill="#08a060" stroke="#111" stroke-width="1.2"/>
<text x="284.00" y="324.31" font-size="7.0" text-anchor="start" font-weight="normal" fill="#222" stroke="#222" stroke-width="0.22">PCA</text>
<rect x="318.5" y="318" width="14.8" height="6.4" fill="#ec9706" stroke="#111" stroke-width="1.2"/>
<text x="337.60" y="324.31" font-size="7.0" text-anchor="start" font-weight="normal" fill="#222" stroke="#222" stroke-width="0.22">DHB</text>
<text x="133.60" y="399.45" font-size="10.2" text-anchor="middle" font-weight="normal" fill="#111" stroke="#111" stroke-width="0.22">+ NnNV</text>
<line x1="104.40" y1="407.40" x2="164.80" y2="407.40" stroke="#222" stroke-width="0.9"/>
<rect x="73.4" y="413.2" width="96.3" height="17.6" fill="#f8f8f8" stroke="#222" stroke-width="0.9"/>
<g filter="url(#bl2)">
<rect x="77" y="414.70" width="89" height="8" fill="#000" opacity="0.09"/>
<ellipse cx="84.60" cy="420.10" rx="10.00" ry="3.55" fill="#222" opacity="0.40"/>
<ellipse cx="108.70" cy="418.30" rx="9.20" ry="3.05" fill="#222" opacity="0.28"/>
<ellipse cx="134.00" cy="417.80" rx="10.20" ry="3.55" fill="#222" opacity="0.40"/>
<ellipse cx="158.70" cy="417.80" rx="10.20" ry="3.55" fill="#222" opacity="0.40"/>
</g>
<g filter="url(#bl)" fill="none" stroke="#000" stroke-linecap="round">
<path d="M76.85 419.30Q84.60 420.30 92.35 419.30" stroke-width="3.30" opacity="1.0"/>
<path d="M101.25 418.30Q108.70 417.70 116.15 418.30" stroke-width="2.30" opacity="0.7"/>
<path d="M126.05 417.30Q134.00 417.70 141.95 417.30" stroke-width="3.30" opacity="1.0"/>
<path d="M150.75 417.20Q158.70 417.80 166.65 417.20" stroke-width="3.30" opacity="1.0"/>
</g>
<text x="68.20" y="424.25" font-size="10.2" text-anchor="end" font-weight="normal" fill="#111" stroke="#111" stroke-width="0.22">NF-κB p65</text>
<text x="175.90" y="423.85" font-size="10.2" text-anchor="start" font-weight="normal" fill="#111" stroke="#111" stroke-width="0.22">65kDa</text>
<rect x="73.4" y="434.4" width="96.3" height="17.6" fill="#f8f8f8" stroke="#222" stroke-width="0.9"/>
<g filter="url(#bl2)">
<rect x="77" y="438.62" width="89" height="8" fill="#000" opacity="0.09"/>
<ellipse cx="84.60" cy="443.00" rx="10.00" ry="3.45" fill="#222" opacity="0.40"/>
<ellipse cx="108.70" cy="442.30" rx="9.00" ry="3.05" fill="#222" opacity="0.27"/>
<ellipse cx="134.00" cy="441.70" rx="10.20" ry="3.55" fill="#222" opacity="0.40"/>
<ellipse cx="158.70" cy="442.70" rx="10.00" ry="3.45" fill="#222" opacity="0.40"/>
</g>
<g filter="url(#bl)" fill="none" stroke="#000" stroke-linecap="round">
<path d="M76.75 442.50Q84.60 442.90 92.45 442.50" stroke-width="3.10" opacity="1.0"/>
<path d="M101.45 442.00Q108.70 442.00 115.95 442.00" stroke-width="2.30" opacity="0.68"/>
<path d="M126.05 441.20Q134.00 441.60 141.95 441.20" stroke-width="3.30" opacity="1.0"/>
<path d="M150.85 442.20Q158.70 442.60 166.55 442.20" stroke-width="3.10" opacity="1.0"/>
</g>
<text x="68.20" y="446.15" font-size="10.2" text-anchor="end" font-weight="normal" fill="#111" stroke="#111" stroke-width="0.22">IκBα</text>
<text x="176.90" y="446.45" font-size="10.2" text-anchor="start" font-weight="normal" fill="#111" stroke="#111" stroke-width="0.22">39kDa</text>
<rect x="73.4" y="455.5" width="96.3" height="17.6" fill="#f8f8f8" stroke="#222" stroke-width="0.9"/>
<g filter="url(#bl2)">
<rect x="77" y="460.98" width="89" height="8" fill="#000" opacity="0.13"/>
<ellipse cx="84.60" cy="465.80" rx="10.20" ry="4.20" fill="#222" opacity="0.36"/>
<ellipse cx="108.70" cy="463.70" rx="10.60" ry="4.60" fill="#222" opacity="0.40"/>
<ellipse cx="134.00" cy="464.60" rx="10.10" ry="4.40" fill="#222" opacity="0.22"/>
<ellipse cx="158.70" cy="465.00" rx="10.40" ry="4.70" fill="#222" opacity="0.32"/>
</g>
<g filter="url(#bl3)" fill="none" stroke="#000" stroke-linecap="round">
<path d="M77.30 465.80Q84.60 465.20 91.90 465.80" stroke-width="4.60" opacity="0.9"/>
<path d="M101.40 463.70Q108.70 463.10 116.00 463.70" stroke-width="5.40" opacity="1.0"/>
<path d="M127.00 464.30Q134.00 464.30 141.00 464.30" stroke-width="5.00" opacity="0.55"/>
<path d="M151.70 464.70Q158.70 464.70 165.70 464.70" stroke-width="5.60" opacity="0.8"/>
</g>
<text x="68.20" y="467.95" font-size="10.2" text-anchor="end" font-weight="normal" fill="#111" stroke="#111" stroke-width="0.22">p38 MAPK</text>
<text x="176.90" y="467.75" font-size="10.2" text-anchor="start" font-weight="normal" fill="#111" stroke="#111" stroke-width="0.22">40kDa</text>
<rect x="73.4" y="477.1" width="96.3" height="17.6" fill="#f8f8f8" stroke="#222" stroke-width="0.9"/>
<g filter="url(#bl2)">
<rect x="77" y="479.00" width="89" height="8" fill="#000" opacity="0.05"/>
<ellipse cx="84.60" cy="482.70" rx="9.90" ry="3.55" fill="#222" opacity="0.09"/>
<ellipse cx="108.70" cy="482.70" rx="9.90" ry="3.45" fill="#222" opacity="0.38"/>
<ellipse cx="134.00" cy="482.90" rx="9.10" ry="3.25" fill="#222" opacity="0.03"/>
<ellipse cx="158.70" cy="482.90" rx="9.10" ry="3.25" fill="#222" opacity="0.03"/>
<rect x="75.5" y="480.6" width="18" height="10" fill="#333" opacity="0.5"/>
<rect x="100.5" y="483.1" width="17" height="6" fill="#444" opacity="0.3"/>
</g>
<g filter="url(#bl)" fill="none" stroke="#000" stroke-linecap="round">
<path d="M76.95 482.40Q84.60 482.40 92.25 482.40" stroke-width="3.30" opacity="0.22"/>
<path d="M100.95 482.70Q108.70 482.10 116.45 482.70" stroke-width="3.10" opacity="0.95"/>
<path d="M126.85 482.60Q134.00 482.60 141.15 482.60" stroke-width="2.70" opacity="0.07"/>
<path d="M151.55 482.60Q158.70 482.60 165.85 482.60" stroke-width="2.70" opacity="0.07"/>
</g>
<text x="68.20" y="488.85" font-size="10.2" text-anchor="end" font-weight="normal" fill="#111" stroke="#111" stroke-width="0.22" textLength="30.8">Erk 1/2</text>
<text x="176.90" y="489.05" font-size="10.2" text-anchor="start" font-weight="normal" fill="#111" stroke="#111" stroke-width="0.22" textLength="44.7">44, 42kDa</text>
<rect x="73.4" y="498.4" width="96.3" height="17.6" fill="#f8f8f8" stroke="#222" stroke-width="0.9"/>
<g filter="url(#bl2)">
<rect x="77" y="504.10" width="89" height="8" fill="#000" opacity="0.12"/>
<ellipse cx="84.60" cy="508.70" rx="10.40" ry="4.10" fill="#222" opacity="0.40"/>
<ellipse cx="108.70" cy="507.00" rx="10.20" ry="4.00" fill="#222" opacity="0.40"/>
<ellipse cx="134.00" cy="507.70" rx="10.40" ry="4.10" fill="#222" opacity="0.40"/>
<ellipse cx="158.70" cy="508.20" rx="10.40" ry="4.10" fill="#222" opacity="0.40"/>
</g>
<g filter="url(#bl)" fill="none" stroke="#000" stroke-linecap="round">
<path d="M77.00 507.60Q84.60 509.20 92.20 507.60" stroke-width="4.40" opacity="1.0"/>
<path d="M101.20 506.20Q108.70 507.20 116.20 506.20" stroke-width="4.20" opacity="1.0"/>
<path d="M126.40 506.90Q134.00 507.90 141.60 506.90" stroke-width="4.40" opacity="1.0"/>
<path d="M151.10 507.20Q158.70 508.60 166.30 507.20" stroke-width="4.40" opacity="1.0"/>
</g>
<text x="68.20" y="510.35" font-size="10.2" text-anchor="end" font-weight="normal" fill="#111" stroke="#111" stroke-width="0.22" textLength="29.9"><tspan font-style="italic">β</tspan>-actin</text>
<text x="176.90" y="510.45" font-size="10.2" text-anchor="start" font-weight="normal" fill="#111" stroke="#111" stroke-width="0.22">43kDa</text>
<text transform="translate(93.8,525.2) rotate(-45)" font-size="10.2" text-anchor="end" fill="#111" stroke="#111" stroke-width="0.22">Dmem</text>
<text transform="translate(118.2,525.2) rotate(-45)" font-size="10.2" text-anchor="end" fill="#111" stroke="#111" stroke-width="0.22">NnNV</text>
<text transform="translate(141,525.2) rotate(-45)" font-size="10.2" text-anchor="end" fill="#111" stroke="#111" stroke-width="0.22">PCA</text>
<text transform="translate(164.8,525.2) rotate(-45)" font-size="10.2" text-anchor="end" fill="#111" stroke="#111" stroke-width="0.22">DHB</text>
<path d="M294.80 484.40V417.64H307.60V484.40" fill="#fff" stroke="#333333" stroke-width="1.3"/>
<line x1="301.20" y1="418.20" x2="301.20" y2="417.00" stroke="#3a3a3a" stroke-width="0.95"/>
<line x1="297.20" y1="417.00" x2="305.20" y2="417.00" stroke="#3a3a3a" stroke-width="0.95"/>
<line x1="297.20" y1="418.20" x2="305.20" y2="418.20" stroke="#3a3a3a" stroke-width="0.95"/>
<line x1="301.20" y1="484.40" x2="301.20" y2="487.00" stroke="#1a1a1a" stroke-width="0.8"/>
<path d="M316.40 484.40V438.35H329.20V484.40" fill="#fff" stroke="#2f5cc0" stroke-width="1.3"/>
<line x1="322.80" y1="439.50" x2="322.80" y2="436.50" stroke="#3a3a3a" stroke-width="0.95"/>
<line x1="318.80" y1="436.50" x2="326.80" y2="436.50" stroke="#3a3a3a" stroke-width="0.95"/>
<line x1="318.80" y1="439.50" x2="326.80" y2="439.50" stroke="#3a3a3a" stroke-width="0.95"/>
<line x1="322.80" y1="484.40" x2="322.80" y2="487.00" stroke="#1a1a1a" stroke-width="0.8"/>
<path d="M337.70 484.40V426.21H350.50V484.40" fill="#fff" stroke="#1aa36a" stroke-width="1.3"/>
<line x1="344.10" y1="428.20" x2="344.10" y2="422.70" stroke="#3a3a3a" stroke-width="0.95"/>
<line x1="340.10" y1="422.70" x2="348.10" y2="422.70" stroke="#3a3a3a" stroke-width="0.95"/>
<line x1="340.10" y1="428.20" x2="348.10" y2="428.20" stroke="#3a3a3a" stroke-width="0.95"/>
<line x1="344.10" y1="484.40" x2="344.10" y2="487.00" stroke="#1a1a1a" stroke-width="0.8"/>
<path d="M358.80 484.40V420.14H371.60V484.40" fill="#fff" stroke="#f0a010" stroke-width="1.3"/>
<line x1="365.20" y1="428.70" x2="365.20" y2="410.40" stroke="#3a3a3a" stroke-width="0.95"/>
<line x1="361.20" y1="410.40" x2="369.20" y2="410.40" stroke="#3a3a3a" stroke-width="0.95"/>
<line x1="361.20" y1="428.70" x2="369.20" y2="428.70" stroke="#3a3a3a" stroke-width="0.95"/>
<line x1="365.20" y1="484.40" x2="365.20" y2="487.00" stroke="#1a1a1a" stroke-width="0.8"/>
<line x1="287.00" y1="377.30" x2="287.00" y2="484.80" stroke="#1a1a1a" stroke-width="0.8"/>
<line x1="286.60" y1="484.40" x2="378.70" y2="484.40" stroke="#1a1a1a" stroke-width="0.8"/>
<line x1="283.80" y1="484.40" x2="287.00" y2="484.40" stroke="#1a1a1a" stroke-width="0.8"/>
<text x="282.60" y="486.76" font-size="6.6" text-anchor="end" font-weight="normal" fill="#222" stroke="#222" stroke-width="0.22">0.0</text>
<line x1="283.80" y1="448.70" x2="287.00" y2="448.70" stroke="#1a1a1a" stroke-width="0.8"/>
<text x="282.60" y="451.06" font-size="6.6" text-anchor="end" font-weight="normal" fill="#222" stroke="#222" stroke-width="0.22">0.5</text>
<line x1="283.80" y1="413.00" x2="287.00" y2="413.00" stroke="#1a1a1a" stroke-width="0.8"/>
<text x="282.60" y="415.36" font-size="6.6" text-anchor="end" font-weight="normal" fill="#222" stroke="#222" stroke-width="0.22">1.0</text>
<line x1="283.80" y1="377.30" x2="287.00" y2="377.30" stroke="#1a1a1a" stroke-width="0.8"/>
<text x="282.60" y="379.66" font-size="6.6" text-anchor="end" font-weight="normal" fill="#222" stroke="#222" stroke-width="0.22">1.5</text>
<circle cx="296.30" cy="417.80" r="1.55" fill="#fff" fill-opacity="0.5" stroke="#333333" stroke-width="0.9"/>
<circle cx="301.70" cy="417.30" r="1.55" fill="#fff" fill-opacity="0.5" stroke="#333333" stroke-width="0.9"/>
<circle cx="307.20" cy="417.80" r="1.55" fill="#fff" fill-opacity="0.5" stroke="#333333" stroke-width="0.9"/>
<circle cx="316.80" cy="438.50" r="1.55" fill="#fff" fill-opacity="0.5" stroke="#2f5cc0" stroke-width="0.9"/>
<circle cx="322.60" cy="436.40" r="1.55" fill="#fff" fill-opacity="0.5" stroke="#2f5cc0" stroke-width="0.9"/>
<circle cx="328.60" cy="438.20" r="1.55" fill="#fff" fill-opacity="0.5" stroke="#2f5cc0" stroke-width="0.9"/>
<circle cx="340.50" cy="422.20" r="1.55" fill="#fff" fill-opacity="0.5" stroke="#1aa36a" stroke-width="0.9"/>
<circle cx="346.80" cy="423.30" r="1.55" fill="#fff" fill-opacity="0.5" stroke="#1aa36a" stroke-width="0.9"/>
<circle cx="343.50" cy="429.00" r="1.55" fill="#fff" fill-opacity="0.5" stroke="#1aa36a" stroke-width="0.9"/>
<circle cx="361.70" cy="413.60" r="1.55" fill="#fff" fill-opacity="0.5" stroke="#f0a010" stroke-width="0.9"/>
<circle cx="368.30" cy="415.00" r="1.55" fill="#fff" fill-opacity="0.5" stroke="#f0a010" stroke-width="0.9"/>
<circle cx="365.00" cy="429.50" r="1.55" fill="#fff" fill-opacity="0.5" stroke="#f0a010" stroke-width="0.9"/>
<text transform="translate(265.36,430.70) rotate(-90)" font-size="6.3" text-anchor="middle" fill="#222" stroke="#222" stroke-width="0.22">Relative protein expression</text>
<text x="332.50" y="368.01" font-size="8.4" text-anchor="middle" font-weight="bold" fill="#111" stroke="#111" stroke-width="0.22">NF-κB p65</text>
<text x="326.70" y="390.81" font-size="6.45" text-anchor="start" font-weight="normal" fill="#222" stroke="#222" stroke-width="0.22">P = 0.0054</text>
<line x1="317.40" y1="393.60" x2="367.80" y2="393.60" stroke="#111" stroke-width="1.05"/>
<text x="315.00" y="404.11" font-size="6.45" text-anchor="start" font-weight="normal" fill="#222" stroke="#222" stroke-width="0.22">P = 0.0418</text>
<line x1="317.40" y1="407.30" x2="344.60" y2="407.30" stroke="#111" stroke-width="1.05"/>
<text transform="translate(304.10,492.20) rotate(-45)" font-size="6.5" text-anchor="end" fill="#222" stroke="#222" stroke-width="0.2">Dmem</text>
<text transform="translate(325.70,492.20) rotate(-45)" font-size="6.5" text-anchor="end" fill="#222" stroke="#222" stroke-width="0.2">NnNV</text>
<text transform="translate(347.00,492.20) rotate(-45)" font-size="6.5" text-anchor="end" fill="#222" stroke="#222" stroke-width="0.2">PCA</text>
<text transform="translate(368.10,492.20) rotate(-45)" font-size="6.5" text-anchor="end" fill="#222" stroke="#222" stroke-width="0.2">DHB</text>
<path d="M428.00 484.40V423.30H440.80V484.40" fill="#fff" stroke="#333333" stroke-width="1.3"/>
<line x1="434.40" y1="431.00" x2="434.40" y2="415.00" stroke="#3a3a3a" stroke-width="0.95"/>
<line x1="430.40" y1="415.00" x2="438.40" y2="415.00" stroke="#3a3a3a" stroke-width="0.95"/>
<line x1="430.40" y1="431.00" x2="438.40" y2="431.00" stroke="#3a3a3a" stroke-width="0.95"/>
<line x1="434.40" y1="484.40" x2="434.40" y2="487.00" stroke="#1a1a1a" stroke-width="0.8"/>
<path d="M449.50 484.40V426.97H462.30V484.40" fill="#fff" stroke="#2f5cc0" stroke-width="1.3"/>
<line x1="455.90" y1="432.50" x2="455.90" y2="421.00" stroke="#3a3a3a" stroke-width="0.95"/>
<line x1="451.90" y1="421.00" x2="459.90" y2="421.00" stroke="#3a3a3a" stroke-width="0.95"/>
<line x1="451.90" y1="432.50" x2="459.90" y2="432.50" stroke="#3a3a3a" stroke-width="0.95"/>
<line x1="455.90" y1="484.40" x2="455.90" y2="487.00" stroke="#1a1a1a" stroke-width="0.8"/>
<path d="M470.50 484.40V411.69H483.30V484.40" fill="#fff" stroke="#1aa36a" stroke-width="1.3"/>
<line x1="476.90" y1="415.00" x2="476.90" y2="407.50" stroke="#3a3a3a" stroke-width="0.95"/>
<line x1="472.90" y1="407.50" x2="480.90" y2="407.50" stroke="#3a3a3a" stroke-width="0.95"/>
<line x1="472.90" y1="415.00" x2="480.90" y2="415.00" stroke="#3a3a3a" stroke-width="0.95"/>
<line x1="476.90" y1="484.40" x2="476.90" y2="487.00" stroke="#1a1a1a" stroke-width="0.8"/>
<path d="M491.70 484.40V408.33H504.50V484.40" fill="#fff" stroke="#f0a010" stroke-width="1.3"/>
<line x1="498.10" y1="410.00" x2="498.10" y2="406.50" stroke="#3a3a3a" stroke-width="0.95"/>
<line x1="494.10" y1="406.50" x2="502.10" y2="406.50" stroke="#3a3a3a" stroke-width="0.95"/>
<line x1="494.10" y1="410.00" x2="502.10" y2="410.00" stroke="#3a3a3a" stroke-width="0.95"/>
<line x1="498.10" y1="484.40" x2="498.10" y2="487.00" stroke="#1a1a1a" stroke-width="0.8"/>
<line x1="420.50" y1="377.00" x2="420.50" y2="484.80" stroke="#1a1a1a" stroke-width="0.8"/>
<line x1="420.10" y1="484.40" x2="512.20" y2="484.40" stroke="#1a1a1a" stroke-width="0.8"/>
<line x1="417.30" y1="484.40" x2="420.50" y2="484.40" stroke="#1a1a1a" stroke-width="0.8"/>
<text x="416.10" y="486.76" font-size="6.6" text-anchor="end" font-weight="normal" fill="#222" stroke="#222" stroke-width="0.22">0.0</text>
<line x1="417.30" y1="453.85" x2="420.50" y2="453.85" stroke="#1a1a1a" stroke-width="0.8"/>
<text x="416.10" y="456.21" font-size="6.6" text-anchor="end" font-weight="normal" fill="#222" stroke="#222" stroke-width="0.22">0.5</text>
<line x1="417.30" y1="423.30" x2="420.50" y2="423.30" stroke="#1a1a1a" stroke-width="0.8"/>
<text x="416.10" y="425.66" font-size="6.6" text-anchor="end" font-weight="normal" fill="#222" stroke="#222" stroke-width="0.22">1.0</text>
<line x1="417.30" y1="392.75" x2="420.50" y2="392.75" stroke="#1a1a1a" stroke-width="0.8"/>
<text x="416.10" y="395.11" font-size="6.6" text-anchor="end" font-weight="normal" fill="#222" stroke="#222" stroke-width="0.22">1.5</text>
<circle cx="434.50" cy="415.00" r="1.55" fill="#fff" fill-opacity="0.5" stroke="#333333" stroke-width="0.9"/>
<circle cx="432.00" cy="428.50" r="1.55" fill="#fff" fill-opacity="0.5" stroke="#333333" stroke-width="0.9"/>
<circle cx="437.00" cy="426.00" r="1.55" fill="#fff" fill-opacity="0.5" stroke="#333333" stroke-width="0.9"/>
<circle cx="456.50" cy="421.50" r="1.55" fill="#fff" fill-opacity="0.5" stroke="#2f5cc0" stroke-width="0.9"/>
<circle cx="453.50" cy="427.00" r="1.55" fill="#fff" fill-opacity="0.5" stroke="#2f5cc0" stroke-width="0.9"/>
<circle cx="456.50" cy="432.00" r="1.55" fill="#fff" fill-opacity="0.5" stroke="#2f5cc0" stroke-width="0.9"/>
<circle cx="477.00" cy="407.50" r="1.55" fill="#fff" fill-opacity="0.5" stroke="#1aa36a" stroke-width="0.9"/>
<circle cx="473.50" cy="413.50" r="1.55" fill="#fff" fill-opacity="0.5" stroke="#1aa36a" stroke-width="0.9"/>
<circle cx="480.00" cy="413.00" r="1.55" fill="#fff" fill-opacity="0.5" stroke="#1aa36a" stroke-width="0.9"/>
<circle cx="494.50" cy="407.00" r="1.55" fill="#fff" fill-opacity="0.5" stroke="#f0a010" stroke-width="0.9"/>
<circle cx="500.50" cy="407.50" r="1.55" fill="#fff" fill-opacity="0.5" stroke="#f0a010" stroke-width="0.9"/>
<circle cx="498.00" cy="410.00" r="1.55" fill="#fff" fill-opacity="0.5" stroke="#f0a010" stroke-width="0.9"/>
<text transform="translate(398.66,430.70) rotate(-90)" font-size="6.3" text-anchor="middle" fill="#222" stroke="#222" stroke-width="0.22">Relative protein expression</text>
<text x="457.70" y="367.51" font-size="8.4" text-anchor="middle" font-weight="bold" fill="#111" stroke="#111" stroke-width="0.22">IκBα</text>
<text x="461.40" y="383.71" font-size="6.45" text-anchor="start" font-weight="normal" fill="#222" stroke="#222" stroke-width="0.22">P = 0.0044</text>
<line x1="452.00" y1="387.00" x2="502.60" y2="387.00" stroke="#111" stroke-width="1.05"/>
<text x="451.20" y="397.31" font-size="6.45" text-anchor="start" font-weight="normal" fill="#222" stroke="#222" stroke-width="0.22">P = 0.0134</text>
<line x1="453.00" y1="401.00" x2="480.80" y2="401.00" stroke="#111" stroke-width="1.05"/>
<text transform="translate(437.30,492.20) rotate(-45)" font-size="6.5" text-anchor="end" fill="#222" stroke="#222" stroke-width="0.2">Dmem</text>
<text transform="translate(458.80,492.20) rotate(-45)" font-size="6.5" text-anchor="end" fill="#222" stroke="#222" stroke-width="0.2">NnNV</text>
<text transform="translate(479.80,492.20) rotate(-45)" font-size="6.5" text-anchor="end" fill="#222" stroke="#222" stroke-width="0.2">PCA</text>
<text transform="translate(501.00,492.20) rotate(-45)" font-size="6.5" text-anchor="end" fill="#222" stroke="#222" stroke-width="0.2">DHB</text>
<path d="M293.80 640.50V592.98H306.60V640.50" fill="#fff" stroke="#333333" stroke-width="1.3"/>
<line x1="300.20" y1="609.40" x2="300.20" y2="577.30" stroke="#3a3a3a" stroke-width="0.95"/>
<line x1="296.20" y1="577.30" x2="304.20" y2="577.30" stroke="#3a3a3a" stroke-width="0.95"/>
<line x1="296.20" y1="609.40" x2="304.20" y2="609.40" stroke="#3a3a3a" stroke-width="0.95"/>
<line x1="300.20" y1="640.50" x2="300.20" y2="643.10" stroke="#1a1a1a" stroke-width="0.8"/>
<path d="M315.20 640.50V563.01H328.00V640.50" fill="#fff" stroke="#2f5cc0" stroke-width="1.3"/>
<line x1="321.60" y1="567.70" x2="321.60" y2="558.70" stroke="#3a3a3a" stroke-width="0.95"/>
<line x1="317.60" y1="558.70" x2="325.60" y2="558.70" stroke="#3a3a3a" stroke-width="0.95"/>
<line x1="317.60" y1="567.70" x2="325.60" y2="567.70" stroke="#3a3a3a" stroke-width="0.95"/>
<line x1="321.60" y1="640.50" x2="321.60" y2="643.10" stroke="#1a1a1a" stroke-width="0.8"/>
<path d="M336.50 640.50V590.28H349.30V640.50" fill="#fff" stroke="#1aa36a" stroke-width="1.3"/>
<line x1="342.90" y1="596.40" x2="342.90" y2="582.00" stroke="#3a3a3a" stroke-width="0.95"/>
<line x1="338.90" y1="582.00" x2="346.90" y2="582.00" stroke="#3a3a3a" stroke-width="0.95"/>
<line x1="338.90" y1="596.40" x2="346.90" y2="596.40" stroke="#3a3a3a" stroke-width="0.95"/>
<line x1="342.90" y1="640.50" x2="342.90" y2="643.10" stroke="#1a1a1a" stroke-width="0.8"/>
<path d="M357.50 640.50V587.31H370.30V640.50" fill="#fff" stroke="#f0a010" stroke-width="1.3"/>
<line x1="363.90" y1="593.60" x2="363.90" y2="581.40" stroke="#3a3a3a" stroke-width="0.95"/>
<line x1="359.90" y1="581.40" x2="367.90" y2="581.40" stroke="#3a3a3a" stroke-width="0.95"/>
<line x1="359.90" y1="593.60" x2="367.90" y2="593.60" stroke="#3a3a3a" stroke-width="0.95"/>
<line x1="363.90" y1="640.50" x2="363.90" y2="643.10" stroke="#1a1a1a" stroke-width="0.8"/>
<line x1="286.50" y1="532.50" x2="286.50" y2="640.90" stroke="#1a1a1a" stroke-width="0.8"/>
<line x1="286.10" y1="640.50" x2="378.70" y2="640.50" stroke="#1a1a1a" stroke-width="0.8"/>
<line x1="283.30" y1="640.50" x2="286.50" y2="640.50" stroke="#1a1a1a" stroke-width="0.8"/>
<text x="282.10" y="642.86" font-size="6.6" text-anchor="end" font-weight="normal" fill="#222" stroke="#222" stroke-width="0.22">0.0</text>
<line x1="283.30" y1="613.50" x2="286.50" y2="613.50" stroke="#1a1a1a" stroke-width="0.8"/>
<text x="282.10" y="615.86" font-size="6.6" text-anchor="end" font-weight="normal" fill="#222" stroke="#222" stroke-width="0.22">0.5</text>
<line x1="283.30" y1="586.50" x2="286.50" y2="586.50" stroke="#1a1a1a" stroke-width="0.8"/>
<text x="282.10" y="588.86" font-size="6.6" text-anchor="end" font-weight="normal" fill="#222" stroke="#222" stroke-width="0.22">1.0</text>
<line x1="283.30" y1="559.50" x2="286.50" y2="559.50" stroke="#1a1a1a" stroke-width="0.8"/>
<text x="282.10" y="561.86" font-size="6.6" text-anchor="end" font-weight="normal" fill="#222" stroke="#222" stroke-width="0.22">1.5</text>
<line x1="283.30" y1="532.50" x2="286.50" y2="532.50" stroke="#1a1a1a" stroke-width="0.8"/>
<text x="282.10" y="534.86" font-size="6.6" text-anchor="end" font-weight="normal" fill="#222" stroke="#222" stroke-width="0.22">2.0</text>
<circle cx="300.00" cy="578.00" r="1.55" fill="#fff" fill-opacity="0.5" stroke="#333333" stroke-width="0.9"/>
<circle cx="300.00" cy="591.50" r="1.55" fill="#fff" fill-opacity="0.5" stroke="#333333" stroke-width="0.9"/>
<circle cx="299.50" cy="609.50" r="1.55" fill="#fff" fill-opacity="0.5" stroke="#333333" stroke-width="0.9"/>
<circle cx="317.50" cy="559.50" r="1.55" fill="#fff" fill-opacity="0.5" stroke="#2f5cc0" stroke-width="0.9"/>
<circle cx="325.00" cy="560.00" r="1.55" fill="#fff" fill-opacity="0.5" stroke="#2f5cc0" stroke-width="0.9"/>
<circle cx="321.50" cy="568.00" r="1.55" fill="#fff" fill-opacity="0.5" stroke="#2f5cc0" stroke-width="0.9"/>
<circle cx="342.50" cy="582.50" r="1.55" fill="#fff" fill-opacity="0.5" stroke="#1aa36a" stroke-width="0.9"/>
<circle cx="347.00" cy="593.00" r="1.55" fill="#fff" fill-opacity="0.5" stroke="#1aa36a" stroke-width="0.9"/>
<circle cx="340.00" cy="596.00" r="1.55" fill="#fff" fill-opacity="0.5" stroke="#1aa36a" stroke-width="0.9"/>
<circle cx="360.50" cy="583.50" r="1.55" fill="#fff" fill-opacity="0.5" stroke="#f0a010" stroke-width="0.9"/>
<circle cx="367.50" cy="584.00" r="1.55" fill="#fff" fill-opacity="0.5" stroke="#f0a010" stroke-width="0.9"/>
<circle cx="364.00" cy="593.50" r="1.55" fill="#fff" fill-opacity="0.5" stroke="#f0a010" stroke-width="0.9"/>
<text transform="translate(265.06,583.00) rotate(-90)" font-size="6.3" text-anchor="middle" fill="#222" stroke="#222" stroke-width="0.22">Relative protein expression</text>
<text x="331.00" y="525.01" font-size="8.4" text-anchor="middle" font-weight="bold" fill="#111" stroke="#111" stroke-width="0.22">p38 MAPK</text>
<text x="326.50" y="537.31" font-size="6.45" text-anchor="start" font-weight="normal" fill="#222" stroke="#222" stroke-width="0.22">P = 0.0317</text>
<line x1="316.80" y1="540.00" x2="367.80" y2="540.00" stroke="#111" stroke-width="1.05"/>
<text x="316.30" y="550.11" font-size="6.45" text-anchor="start" font-weight="normal" fill="#222" stroke="#222" stroke-width="0.22">P = 0.0167</text>
<line x1="316.80" y1="553.30" x2="344.60" y2="553.30" stroke="#111" stroke-width="1.05"/>
<text transform="translate(303.10,648.30) rotate(-45)" font-size="6.5" text-anchor="end" fill="#222" stroke="#222" stroke-width="0.2">Dmem</text>
<text transform="translate(324.50,648.30) rotate(-45)" font-size="6.5" text-anchor="end" fill="#222" stroke="#222" stroke-width="0.2">NnNV</text>
<text transform="translate(345.80,648.30) rotate(-45)" font-size="6.5" text-anchor="end" fill="#222" stroke="#222" stroke-width="0.2">PCA</text>
<text transform="translate(366.80,648.30) rotate(-45)" font-size="6.5" text-anchor="end" fill="#222" stroke="#222" stroke-width="0.2">DHB</text>
<path d="M428.00 640.30V583.71H440.80V640.30" fill="#fff" stroke="#333333" stroke-width="1.3"/>
<line x1="434.40" y1="588.00" x2="434.40" y2="577.70" stroke="#3a3a3a" stroke-width="0.95"/>
<line x1="430.40" y1="577.70" x2="438.40" y2="577.70" stroke="#3a3a3a" stroke-width="0.95"/>
<line x1="430.40" y1="588.00" x2="438.40" y2="588.00" stroke="#3a3a3a" stroke-width="0.95"/>
<line x1="434.40" y1="640.30" x2="434.40" y2="642.90" stroke="#1a1a1a" stroke-width="0.8"/>
<path d="M449.50 640.30V578.29H462.30V640.30" fill="#fff" stroke="#2f5cc0" stroke-width="1.3"/>
<line x1="455.90" y1="585.00" x2="455.90" y2="572.00" stroke="#3a3a3a" stroke-width="0.95"/>
<line x1="451.90" y1="572.00" x2="459.90" y2="572.00" stroke="#3a3a3a" stroke-width="0.95"/>
<line x1="451.90" y1="585.00" x2="459.90" y2="585.00" stroke="#3a3a3a" stroke-width="0.95"/>
<line x1="455.90" y1="640.30" x2="455.90" y2="642.90" stroke="#1a1a1a" stroke-width="0.8"/>
<path d="M470.50 640.30V604.48H483.30V640.30" fill="#fff" stroke="#1aa36a" stroke-width="1.3"/>
<line x1="476.90" y1="621.40" x2="476.90" y2="587.30" stroke="#3a3a3a" stroke-width="0.95"/>
<line x1="472.90" y1="587.30" x2="480.90" y2="587.30" stroke="#3a3a3a" stroke-width="0.95"/>
<line x1="472.90" y1="621.40" x2="480.90" y2="621.40" stroke="#3a3a3a" stroke-width="0.95"/>
<line x1="476.90" y1="640.30" x2="476.90" y2="642.90" stroke="#1a1a1a" stroke-width="0.8"/>
<path d="M491.70 640.30V605.38H504.50V640.30" fill="#fff" stroke="#f0a010" stroke-width="1.3"/>
<line x1="498.10" y1="618.50" x2="498.10" y2="591.40" stroke="#3a3a3a" stroke-width="0.95"/>
<line x1="494.10" y1="591.40" x2="502.10" y2="591.40" stroke="#3a3a3a" stroke-width="0.95"/>
<line x1="494.10" y1="618.50" x2="502.10" y2="618.50" stroke="#3a3a3a" stroke-width="0.95"/>
<line x1="498.10" y1="640.30" x2="498.10" y2="642.90" stroke="#1a1a1a" stroke-width="0.8"/>
<line x1="420.50" y1="535.00" x2="420.50" y2="640.70" stroke="#1a1a1a" stroke-width="0.8"/>
<line x1="420.10" y1="640.30" x2="512.20" y2="640.30" stroke="#1a1a1a" stroke-width="0.8"/>
<line x1="417.30" y1="640.30" x2="420.50" y2="640.30" stroke="#1a1a1a" stroke-width="0.8"/>
<text x="416.10" y="642.66" font-size="6.6" text-anchor="end" font-weight="normal" fill="#222" stroke="#222" stroke-width="0.22">0.0</text>
<line x1="417.30" y1="610.20" x2="420.50" y2="610.20" stroke="#1a1a1a" stroke-width="0.8"/>
<text x="416.10" y="612.56" font-size="6.6" text-anchor="end" font-weight="normal" fill="#222" stroke="#222" stroke-width="0.22">0.5</text>
<line x1="417.30" y1="580.10" x2="420.50" y2="580.10" stroke="#1a1a1a" stroke-width="0.8"/>
<text x="416.10" y="582.46" font-size="6.6" text-anchor="end" font-weight="normal" fill="#222" stroke="#222" stroke-width="0.22">1.0</text>
<line x1="417.30" y1="550.00" x2="420.50" y2="550.00" stroke="#1a1a1a" stroke-width="0.8"/>
<text x="416.10" y="552.36" font-size="6.6" text-anchor="end" font-weight="normal" fill="#222" stroke="#222" stroke-width="0.22">1.5</text>
<circle cx="434.50" cy="577.50" r="1.55" fill="#fff" fill-opacity="0.5" stroke="#333333" stroke-width="0.9"/>
<circle cx="431.50" cy="586.50" r="1.55" fill="#fff" fill-opacity="0.5" stroke="#333333" stroke-width="0.9"/>
<circle cx="437.00" cy="586.50" r="1.55" fill="#fff" fill-opacity="0.5" stroke="#333333" stroke-width="0.9"/>
<circle cx="452.50" cy="573.50" r="1.55" fill="#fff" fill-opacity="0.5" stroke="#2f5cc0" stroke-width="0.9"/>
<circle cx="458.50" cy="574.50" r="1.55" fill="#fff" fill-opacity="0.5" stroke="#2f5cc0" stroke-width="0.9"/>
<circle cx="455.00" cy="584.50" r="1.55" fill="#fff" fill-opacity="0.5" stroke="#2f5cc0" stroke-width="0.9"/>
<circle cx="473.00" cy="592.50" r="1.55" fill="#fff" fill-opacity="0.5" stroke="#1aa36a" stroke-width="0.9"/>
<circle cx="479.50" cy="596.50" r="1.55" fill="#fff" fill-opacity="0.5" stroke="#1aa36a" stroke-width="0.9"/>
<circle cx="475.50" cy="623.50" r="1.55" fill="#fff" fill-opacity="0.5" stroke="#1aa36a" stroke-width="0.9"/>
<circle cx="497.50" cy="592.50" r="1.55" fill="#fff" fill-opacity="0.5" stroke="#f0a010" stroke-width="0.9"/>
<circle cx="496.50" cy="601.00" r="1.55" fill="#fff" fill-opacity="0.5" stroke="#f0a010" stroke-width="0.9"/>
<circle cx="497.00" cy="620.00" r="1.55" fill="#fff" fill-opacity="0.5" stroke="#f0a010" stroke-width="0.9"/>
<text transform="translate(399.56,586.00) rotate(-90)" font-size="6.3" text-anchor="middle" fill="#222" stroke="#222" stroke-width="0.22">Relative protein expression</text>
<text x="460.20" y="526.31" font-size="8.4" text-anchor="middle" font-weight="bold" fill="#111" stroke="#111" stroke-width="0.22">ERK 1/2</text>
<text x="459.30" y="548.01" font-size="6.45" text-anchor="start" font-weight="normal" fill="#222" stroke="#222" stroke-width="0.22">P = 0.0466</text>
<line x1="450.50" y1="550.70" x2="500.50" y2="550.70" stroke="#111" stroke-width="1.05"/>
<text x="449.70" y="561.11" font-size="6.45" text-anchor="start" font-weight="normal" fill="#222" stroke="#222" stroke-width="0.22">P = 0.0537</text>
<line x1="450.50" y1="564.00" x2="480.80" y2="564.00" stroke="#111" stroke-width="1.05"/>
<text transform="translate(437.30,648.10) rotate(-45)" font-size="6.5" text-anchor="end" fill="#222" stroke="#222" stroke-width="0.2">Dmem</text>
<text transform="translate(458.80,648.10) rotate(-45)" font-size="6.5" text-anchor="end" fill="#222" stroke="#222" stroke-width="0.2">NnNV</text>
<text transform="translate(479.80,648.10) rotate(-45)" font-size="6.5" text-anchor="end" fill="#222" stroke="#222" stroke-width="0.2">PCA</text>
<text transform="translate(501.00,648.10) rotate(-45)" font-size="6.5" text-anchor="end" fill="#222" stroke="#222" stroke-width="0.2">DHB</text>
</svg></body></html>
